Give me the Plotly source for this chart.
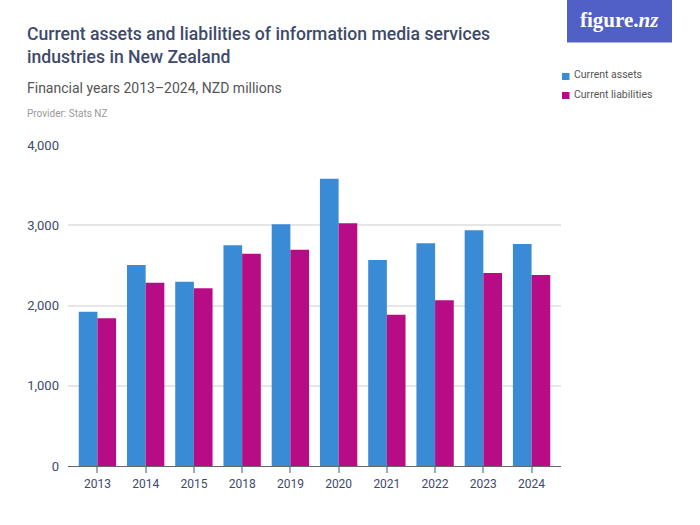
import plotly.graph_objects as go

years = ["2013", "2014", "2015", "2018", "2019", "2020", "2021", "2022", "2023", "2024"]
current_assets = [1923, 2505, 2295, 2750, 3012, 3580, 2567, 2775, 2937, 2766]
current_liabilities = [1840, 2285, 2214, 2646, 2695, 3024, 1885, 2065, 2405, 2380]
series_names = ["Current assets", "Current liabilities"]
y_ticks = [0, 1000, 2000, 3000, 4000]
y_tick_labels = ["0", "1,000", "2,000", "3,000", "4,000"]

FONT = "Roboto"
BLUE = "#3A8BD5"
MAGENTA = "#B80C86"
NAVY = "#3E4A6B"

L, R, T, B = 68, 139, 145, 59
PW = 700 - L - R
PH = 525 - T - B


def px(x):
    return (x - L) / PW


def py(y):
    return (525 - B - y) / PH


fig = go.Figure()
fig.add_trace(go.Bar(x=years, y=current_assets, name=series_names[0],
                     marker=dict(color=BLUE, line=dict(width=0))))
fig.add_trace(go.Bar(x=years, y=current_liabilities, name=series_names[1],
                     marker=dict(color=MAGENTA, line=dict(width=0))))

fig.update_layout(
    width=700, height=525,
    margin=dict(l=L, r=R, t=T, b=B, autoexpand=False),
    paper_bgcolor="white", plot_bgcolor="white",
    barmode="group", bargap=0.226, bargroupgap=0,
    font=dict(family=FONT, color=NAVY),
    showlegend=False,
    xaxis=dict(type="category", range=[-0.61, 9.61], showgrid=False,
               showline=True, linecolor="#666666", linewidth=1.2,
               ticks="outside", ticklen=6, tickcolor="#AAAAAA", tickwidth=1.5,
               tickfont=dict(family=FONT, size=12, color=NAVY), fixedrange=True),
    yaxis=dict(range=[0, 4000], tickvals=y_ticks, ticktext=y_tick_labels,
               showgrid=True, gridcolor="#E6E6E6", gridwidth=1.5, zeroline=False,
               showline=False, ticks="", ticklabelstandoff=8,
               tickfont=dict(family=FONT, size=13, color=NAVY)),
)

# Title block
fig.add_annotation(text="Current assets and liabilities of information media services<br>industries in New Zealand",
                   xref="paper", yref="paper", x=px(25), y=py(22),
                   xanchor="left", yanchor="top", showarrow=False, align="left",
                   font=dict(family=FONT, size=17.6, color=NAVY, weight=500))
fig.add_annotation(text="Financial years 2013–2024, NZD millions",
                   xref="paper", yref="paper", x=px(25), y=py(78),
                   xanchor="left", yanchor="top", showarrow=False, align="left",
                   font=dict(family=FONT, size=14, color="#555555"))
fig.add_annotation(text="Provider: Stats NZ",
                   xref="paper", yref="paper", x=px(25), y=py(106),
                   xanchor="left", yanchor="top", showarrow=False, align="left",
                   font=dict(family=FONT, size=10, color="#999999"))

# Manual legend
for i, (name, col) in enumerate(zip(series_names, [BLUE, MAGENTA])):
    yc = 76.5 + i * 19
    fig.add_shape(type="rect", xref="paper", yref="paper",
                  x0=px(562), x1=px(569.5), y0=py(yc + 3.5), y1=py(yc - 3.5),
                  fillcolor=col, line=dict(width=0))
    fig.add_annotation(text=name, xref="paper", yref="paper",
                       x=px(572), y=py(yc - 1.5), xanchor="left", yanchor="middle",
                       showarrow=False, font=dict(family=FONT, size=10.5, color="#555555"))

# Logo
fig.add_shape(type="rect", xref="paper", yref="paper",
              x0=px(567), x1=px(672), y0=py(42.5), y1=py(-2),
              fillcolor="#5160C6", line=dict(width=0), layer="above")
fig.add_shape(type="line", xref="paper", yref="paper",
              x0=px(567), x1=px(672), y0=py(42.5), y1=py(42.5),
              line=dict(color="#A9B1E3", width=1))
fig.add_annotation(text="<b>figure.<i>nz</i></b>", xref="paper", yref="paper",
                   x=px(619.5), y=py(20), xanchor="center", yanchor="middle",
                   showarrow=False,
                   font=dict(family="Liberation Serif", size=21, color="white"))

fig.write_html("out.html")
